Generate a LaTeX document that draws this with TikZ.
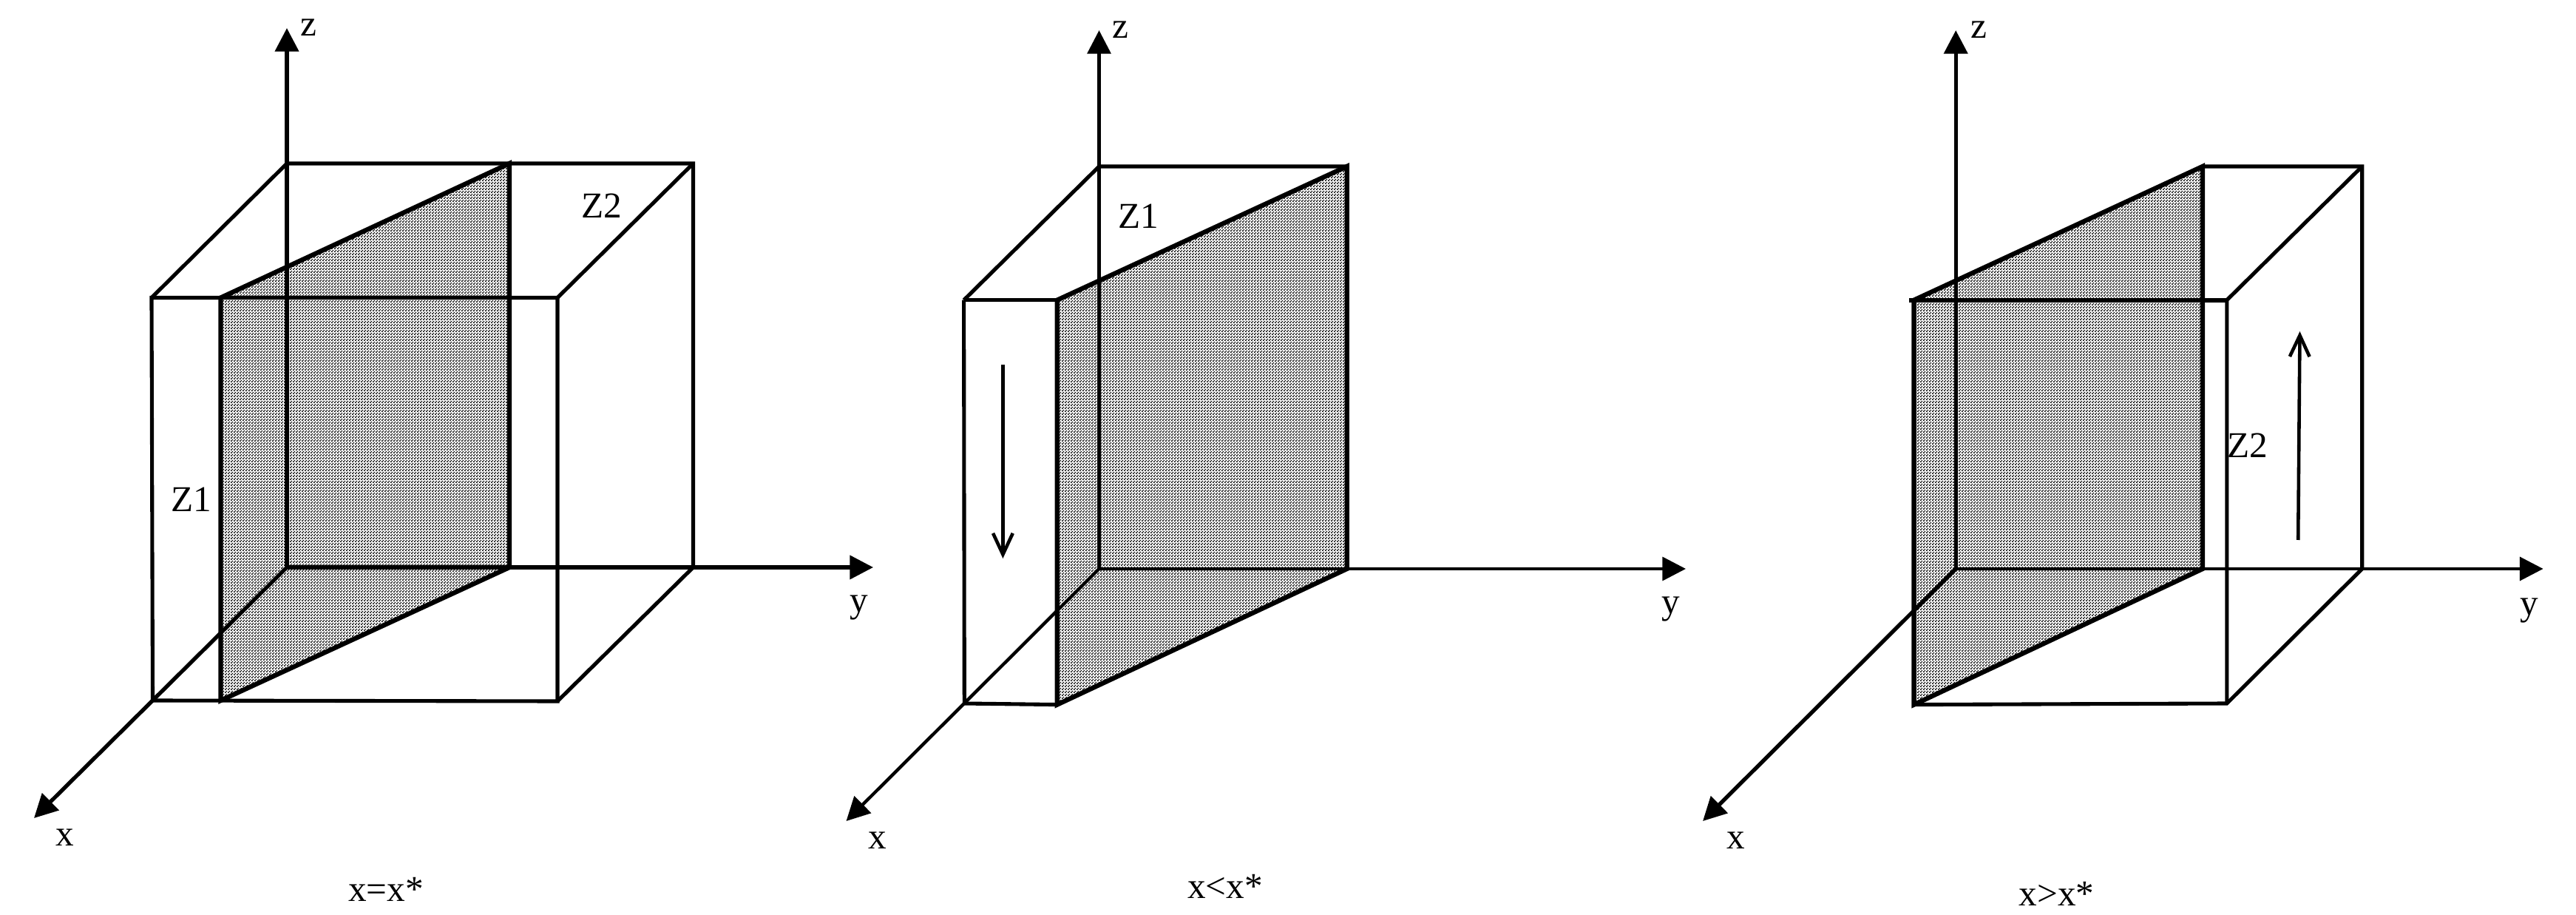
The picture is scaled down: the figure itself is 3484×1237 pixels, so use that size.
\documentclass[tikz,border=0pt]{standalone}
\usepackage{fontspec}
\setmainfont{Liberation Serif}
\usetikzlibrary{arrows.meta,patterns}
\pgfdeclarepatternformonly{dither}{\pgfpointorigin}{\pgfqpoint{1.138pt}{1.138pt}}{\pgfqpoint{1.138pt}{1.138pt}}{
  \pgfpathrectangle{\pgfpointorigin}{\pgfqpoint{0.62pt}{0.62pt}}
  \pgfpathrectangle{\pgfqpoint{0.569pt}{0.569pt}}{\pgfqpoint{0.569pt}{0.569pt}}
  \pgfusepath{fill}
}
\tikzset{
  px/.style={x=0.01cm,y=-0.01cm},
  frame/.style={line width=1.45pt,line join=miter},
  heavy/.style={line width=1.8pt},
  axis/.style={line width=1.5pt,-{Triangle[length=9pt,width=9pt]}},
  thinaxis/.style={line width=1.25pt,-{Triangle[length=9pt,width=9pt]}},
  flow/.style={line width=1.3pt,-{Straight Barb[length=5pt,width=10pt,angle=50:9pt]}},
  plane/.style={pattern=dither,pattern color=black,draw=none},
  lab/.style={font=\fontsize{14}{16}\selectfont,inner sep=0pt,anchor=base}
}
\begin{document}
\begin{tikzpicture}[px]
\useasboundingbox (0,0) rectangle (3484,1237);
% Panel 1
\coordinate (ao) at (388,767);
\coordinate (az) at (388,38);
\coordinate (ay) at (1181,767);
\coordinate (ax) at (46,1106);
\coordinate (atl) at (388,221);
\coordinate (atr) at (937.5,221);
\coordinate (abr) at (937.5,767);
\coordinate (aftl) at (205,402.5);
\coordinate (aftr) at (754,402.5);
\coordinate (afbl) at (206.5,947);
\coordinate (afbr) at (754,948);
\coordinate (aA) at (298.5,402.5);
\coordinate (aB) at (689,221);
\coordinate (aC) at (689,767);
\coordinate (aD) at (298.5,947);
\path[plane] (aA) -- (aB) -- (aC) -- (aD) -- cycle;
\draw[frame] (afbl) -- (aftl) -- (aftr) -- (afbr) -- cycle;
\draw[frame] (aftl) -- (atl) -- (atr) -- (abr) -- (afbr);
\draw[frame] (aftr) -- (atr);
\draw[heavy] (aA) -- (aB) -- (aC) -- (aD) -- cycle;
\draw[axis] (ao) -- (az);
\draw[axis] (ao) -- (ay);
\draw[axis] (ao) -- (ax);
\node[lab] (az1) at (417,49) {z};
\node[lab] (ay1) at (1162,828) {y};
\node[lab] (ax1) at (88,1143) {x};
\node[lab] (aZa) at (259,692) {Z1};
\node[lab] (aZb) at (813.5,295) {Z2};
\node[lab] (acap) at (522,1218) {x=x*};
% Panel 2
\coordinate (bo) at (1486.5,769);
\coordinate (bz) at (1486.5,41);
\coordinate (by) at (2280,769);
\coordinate (bx) at (1144.5,1110);
\coordinate (btl) at (1486.5,225);
\coordinate (btr) at (1821.7,225);
\coordinate (bC) at (1821.7,769);
\coordinate (bftl) at (1303.6,405.7);
\coordinate (bA) at (1429.8,405.7);
\coordinate (bfbl) at (1304.3,951);
\coordinate (bD) at (1429.8,952.6);
\coordinate (ba1) at (1356.4,493);
\coordinate (ba2) at (1356.4,755);
\path[plane] (bA) -- (btr) -- (bC) -- (bD) -- cycle;
\draw[frame] (bftl) -- (btl) -- (btr);
\draw[frame] (bftl) -- (bA);
\draw[frame] (bftl) -- (bfbl) -- (bD);
\draw[heavy] (bA) -- (btr) -- (bC) -- (bD) -- cycle;
\draw[thinaxis] (bo) -- (bz);
\draw[thinaxis] (bo) -- (by);
\draw[thinaxis] (bo) -- (bx);
\draw[flow] (ba1) -- (ba2);
\node[lab] (bz1) at (1515.6,52) {z};
\node[lab] (by1) at (2260,830) {y};
\node[lab] (bx1) at (1187,1147) {x};
\node[lab] (bZa) at (1540,309) {Z1};
\node[lab] (bcap) at (1657,1214) {x<x*};
% Panel 3
\coordinate (co) at (2645.2,769);
\coordinate (cz) at (2645.2,41);
\coordinate (cy) at (3439.6,769);
\coordinate (cx) at (2303,1110);
\coordinate (cA) at (2588.6,405.7);
\coordinate (cA0) at (2582,405.7);
\coordinate (cB) at (2979,225);
\coordinate (cC) at (2979,769);
\coordinate (cD) at (2588.6,952.6);
\coordinate (ctr) at (3194.7,225);
\coordinate (cbr) at (3194.7,769);
\coordinate (cftr) at (3011.8,405.7);
\coordinate (cfbr) at (3011.8,951);
\coordinate (ca1) at (3108.2,730);
\coordinate (ca2) at (3110.5,448);
\path[plane] (cA) -- (cB) -- (cC) -- (cD) -- cycle;
\draw[frame] (cB) -- (ctr) -- (cbr) -- (cfbr) -- (cD);
\draw[frame] (ctr) -- (cftr) -- (cfbr);
\draw[heavy] (cA0) -- (cftr);
\draw[heavy] (cA) -- (cB) -- (cC) -- (cD) -- cycle;
\draw[axis] (co) -- (cz);
\draw[thinaxis] (co) -- (cy);
\draw[axis] (co) -- (cx);
\draw[flow] (ca1) -- (ca2);
\node[lab] (cz1) at (2676,52) {z};
\node[lab] (cy1) at (3420.5,832) {y};
\node[lab] (cx1) at (2347.5,1147) {x};
\node[lab] (cZa) at (3040,619) {Z2};
\node[lab] (ccap) at (2781.5,1224) {x>x*};
\end{tikzpicture}
\end{document}
